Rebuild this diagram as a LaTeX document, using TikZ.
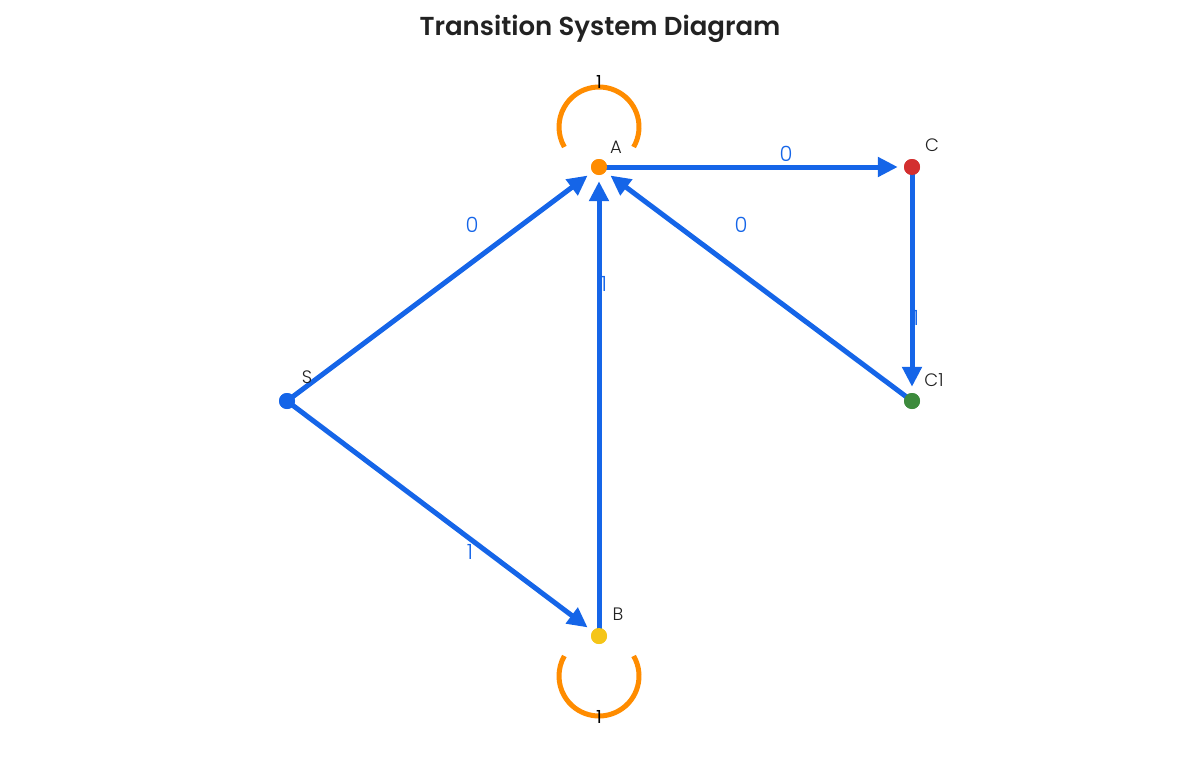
\documentclass[tikz,border=0pt]{standalone}
\usepackage{fontspec}
\setmainfont{Poppins}
\newfontfamily\titlefont{Poppins SemiBold}
\newfontfamily\lightfont{Poppins Light}
\usetikzlibrary{arrows.meta}
\definecolor{eblue}{RGB}{21,101,232}
\definecolor{sblue}{RGB}{21,101,232}
\definecolor{aorange}{RGB}{255,140,0}
\definecolor{byellow}{RGB}{245,197,24}
\definecolor{cred}{RGB}{211,47,47}
\definecolor{cgreen}{RGB}{61,139,61}
\definecolor{txt}{RGB}{34,34,34}
\tikzset{
  dot/.style={circle,inner sep=0pt,minimum size=16pt,fill=#1},
  nlabel/.style={font=\lightfont\fontsize{18}{18}\selectfont,text=txt,inner sep=0pt},
  llabel/.style={font=\fontsize{18}{18}\selectfont,text=black,inner sep=0pt},
  elabel/.style={font=\lightfont\fontsize{21}{21}\selectfont,text=eblue,inner sep=0pt},
  edge/.style={draw=eblue,line width=5pt,-{Triangle[length=20pt,width=19pt]},shorten >=6pt},
  loop/.style={draw=aorange,line width=5pt},
}
\begin{document}
\begin{tikzpicture}[x=1pt,y=-1pt]
\useasboundingbox (0,0) rectangle (1200,763);
\node[font=\titlefont\fontsize{26}{26}\selectfont,text=txt] (title) at (600,29) {Transition System Diagram};
% nodes
\coordinate (Sc) at (287,401);
\coordinate (Ac) at (599,167);
\coordinate (Bc) at (599,636);
\coordinate (Cc) at (912,167);
\coordinate (C1c) at (912,401);
% loops
\draw[loop] (Ac) ++(0,-40) ++(30:40) arc[start angle=30,end angle=-210,radius=40];
\draw[loop] (Bc) ++(0,40) ++(-30:40) arc[start angle=-30,end angle=210,radius=40];
\node[llabel] (l1) at (599,82) {1};
\node[llabel] (l2) at (599,717) {1};
% edges
\node[dot=sblue] (S) at (Sc) {};
\node[dot=aorange] (A) at (Ac) {};
\node[dot=byellow] (B) at (Bc) {};
\node[dot=cred] (C) at (Cc) {};
\node[dot=cgreen] (C1) at (C1c) {};
\draw[edge] (S.center) -- (A);
\draw[edge] (S.center) -- (B);
\draw[edge] (B.center) -- (A);
\draw[edge] (A.center) -- (C);
\draw[edge] (C.center) -- (C1);
\draw[edge] (C1.center) -- (A);
\node[dot=sblue] at (Sc) {};
\node[dot=aorange] at (Ac) {};
\node[dot=byellow] at (Bc) {};
\node[dot=cred] at (Cc) {};
\node[dot=cgreen] at (C1c) {};
% edge labels
\node[elabel] (e1) at (472,225) {0};
\node[elabel] (e2) at (470,552) {1};
\node[elabel] (e3) at (604,284) {1};
\node[elabel] (e4) at (786,154) {0};
\node[elabel] (e5) at (916,318) {1};
\node[elabel] (e6) at (741,225) {0};
% node labels
\node[nlabel] (tS) at (307,377) {S};
\node[nlabel] (tA) at (616,147) {A};
\node[nlabel] (tB) at (618,614) {B};
\node[nlabel] (tC) at (932,145) {C};
\node[nlabel] (tC1) at (934,380) {C1};
\end{tikzpicture}
\end{document}
